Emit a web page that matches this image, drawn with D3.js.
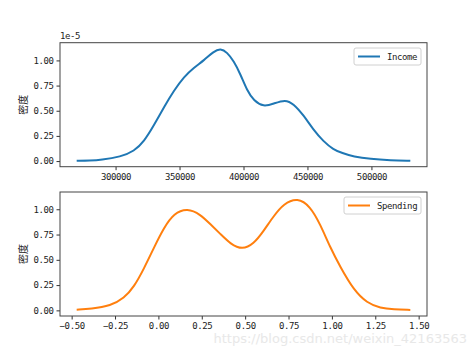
<!DOCTYPE html>
<html><head><meta charset="utf-8">
<script src="https://cdn.jsdelivr.net/npm/d3@7"></script>
<style>body{margin:0;background:#fff}svg{display:block}</style>
</head><body>
<script>
const incomeX = [269600, 280000, 288500, 304100, 314500, 322300, 330100, 337900, 345600, 353400, 361200, 369000, 376800, 382000, 387200, 392400, 397600, 402800, 408000, 415700, 423500, 432600, 439100, 446900, 454700, 462500, 470300, 477000, 486100, 499100, 515000, 530400];
const incomeY = [0.002, 0.004, 0.01, 0.043, 0.098, 0.195, 0.358, 0.537, 0.70, 0.837, 0.928, 1.0, 1.09, 1.12, 1.08, 0.993, 0.863, 0.70, 0.60, 0.538, 0.57, 0.612, 0.57, 0.456, 0.31, 0.195, 0.114, 0.08, 0.043, 0.02, 0.008, 0.003];
const spendX = [-0.471, -0.389, -0.274, -0.198, -0.14, -0.083, -0.025, 0.032, 0.09, 0.167, 0.243, 0.30, 0.358, 0.416, 0.483, 0.549, 0.607, 0.664, 0.722, 0.802, 0.875, 0.933, 0.99, 1.048, 1.126, 1.203, 1.279, 1.356, 1.452];
const spendY = [0.007, 0.014, 0.046, 0.12, 0.234, 0.413, 0.623, 0.818, 0.96, 1.012, 0.948, 0.851, 0.754, 0.656, 0.60, 0.656, 0.786, 0.932, 1.055, 1.115, 1.03, 0.851, 0.623, 0.43, 0.2, 0.072, 0.023, 0.01, 0.004];
const incomeTicksX = [300000, 350000, 400000, 450000, 500000];
const spendTicksX = [-0.5, -0.25, 0, 0.25, 0.5, 0.75, 1.0, 1.25, 1.5];
const ticksY = [0, 0.25, 0.5, 0.75, 1.0];
const yLabel = "密度";

const W = 474, H = 355;
const svg = d3.select("body").append("svg").attr("width", W).attr("height", H);
const tickFont = "'DejaVu Sans Mono', monospace";

function pad(ext){ const r = ext[1]-ext[0]; return [ext[0]-0.05*r, ext[1]+0.05*r]; }

function panel(xs, ys, top, bottom, xTicks, xFmt, color, name, legend, showExp){
  const left = 60, right = 427;
  const x = d3.scaleLinear().domain(pad(d3.extent(xs))).range([left, right]);
  const ymax = d3.max(ys);
  const y = d3.scaleLinear().domain(pad([0, ymax])).range([bottom, top]);
  const g = svg.append("g");
  const data = xs.map((v,i)=>[v, ys[i]]);
  g.append("path").datum(data)
    .attr("fill","none").attr("stroke",color).attr("stroke-width",2)
    .attr("stroke-linejoin","round")
    .attr("d", d3.line().x(d=>x(d[0])).y(d=>y(d[1])).curve(d3.curveBasis));
  const ax = g.append("g").attr("transform",`translate(0,${bottom})`)
    .call(d3.axisBottom(x).tickValues(xTicks).tickFormat(xFmt).tickSize(3.5).tickPadding(3));
  const ay = g.append("g").attr("transform",`translate(${left},0)`)
    .call(d3.axisLeft(y).tickValues(ticksY).tickFormat(d3.format(".2f")).tickSize(3.5).tickPadding(3));
  [ax, ay].forEach(a=>{
    a.select(".domain").remove();
    a.selectAll("line").attr("stroke","#333");
    a.selectAll("text").attr("font-family",tickFont).attr("font-size","9px")
      .attr("letter-spacing","-0.4px").attr("fill","#222");
  });
  g.append("rect").attr("x",left).attr("y",top).attr("width",right-left).attr("height",bottom-top)
    .attr("fill","none").attr("stroke","#444").attr("stroke-width",1);
  g.append("text").attr("transform",`translate(27,${(top+bottom)/2}) rotate(-90)`)
    .attr("text-anchor","middle").attr("font-family","'Noto Sans CJK SC'").attr("font-size","10px")
    .attr("fill","#222").text(yLabel);
  if(showExp){
    g.append("text").attr("x",left).attr("y",top-4).attr("font-family",tickFont)
      .attr("font-size","9px").attr("letter-spacing","-0.4px").attr("fill","#222").text("1e-5");
  }
  const lg = g.append("g");
  lg.append("rect").attr("x",legend.x).attr("y",legend.y).attr("width",legend.w).attr("height",17)
    .attr("rx",2).attr("fill","#fff").attr("fill-opacity",0.8).attr("stroke","#d0d0d0");
  lg.append("line").attr("x1",legend.x+4).attr("x2",legend.x+26).attr("y1",legend.y+8.5).attr("y2",legend.y+8.5)
    .attr("stroke",color).attr("stroke-width",2);
  lg.append("text").attr("x",legend.x+33).attr("y",legend.y+12).attr("font-family",tickFont)
    .attr("font-size","9px").attr("letter-spacing","-0.4px").attr("fill","#222").text(name);
}

panel(incomeX, incomeY, 42.7, 166.7, incomeTicksX, d3.format("d"), "#1f77b4", "Income", {x:354, y:48, w:67}, true);
panel(spendX, spendY, 192, 316, spendTicksX, d3.format(".2f"), "#ff7f0e", "Spending", {x:344, y:197, w:77}, false);

svg.append("text").attr("x",467).attr("y",343).attr("text-anchor","end")
  .attr("font-family","'DejaVu Sans'").attr("font-size","13px").attr("fill","#e8e8e8")
  .text("https://blog.csdn.net/weixin_42163563");
</script>
</body></html>
